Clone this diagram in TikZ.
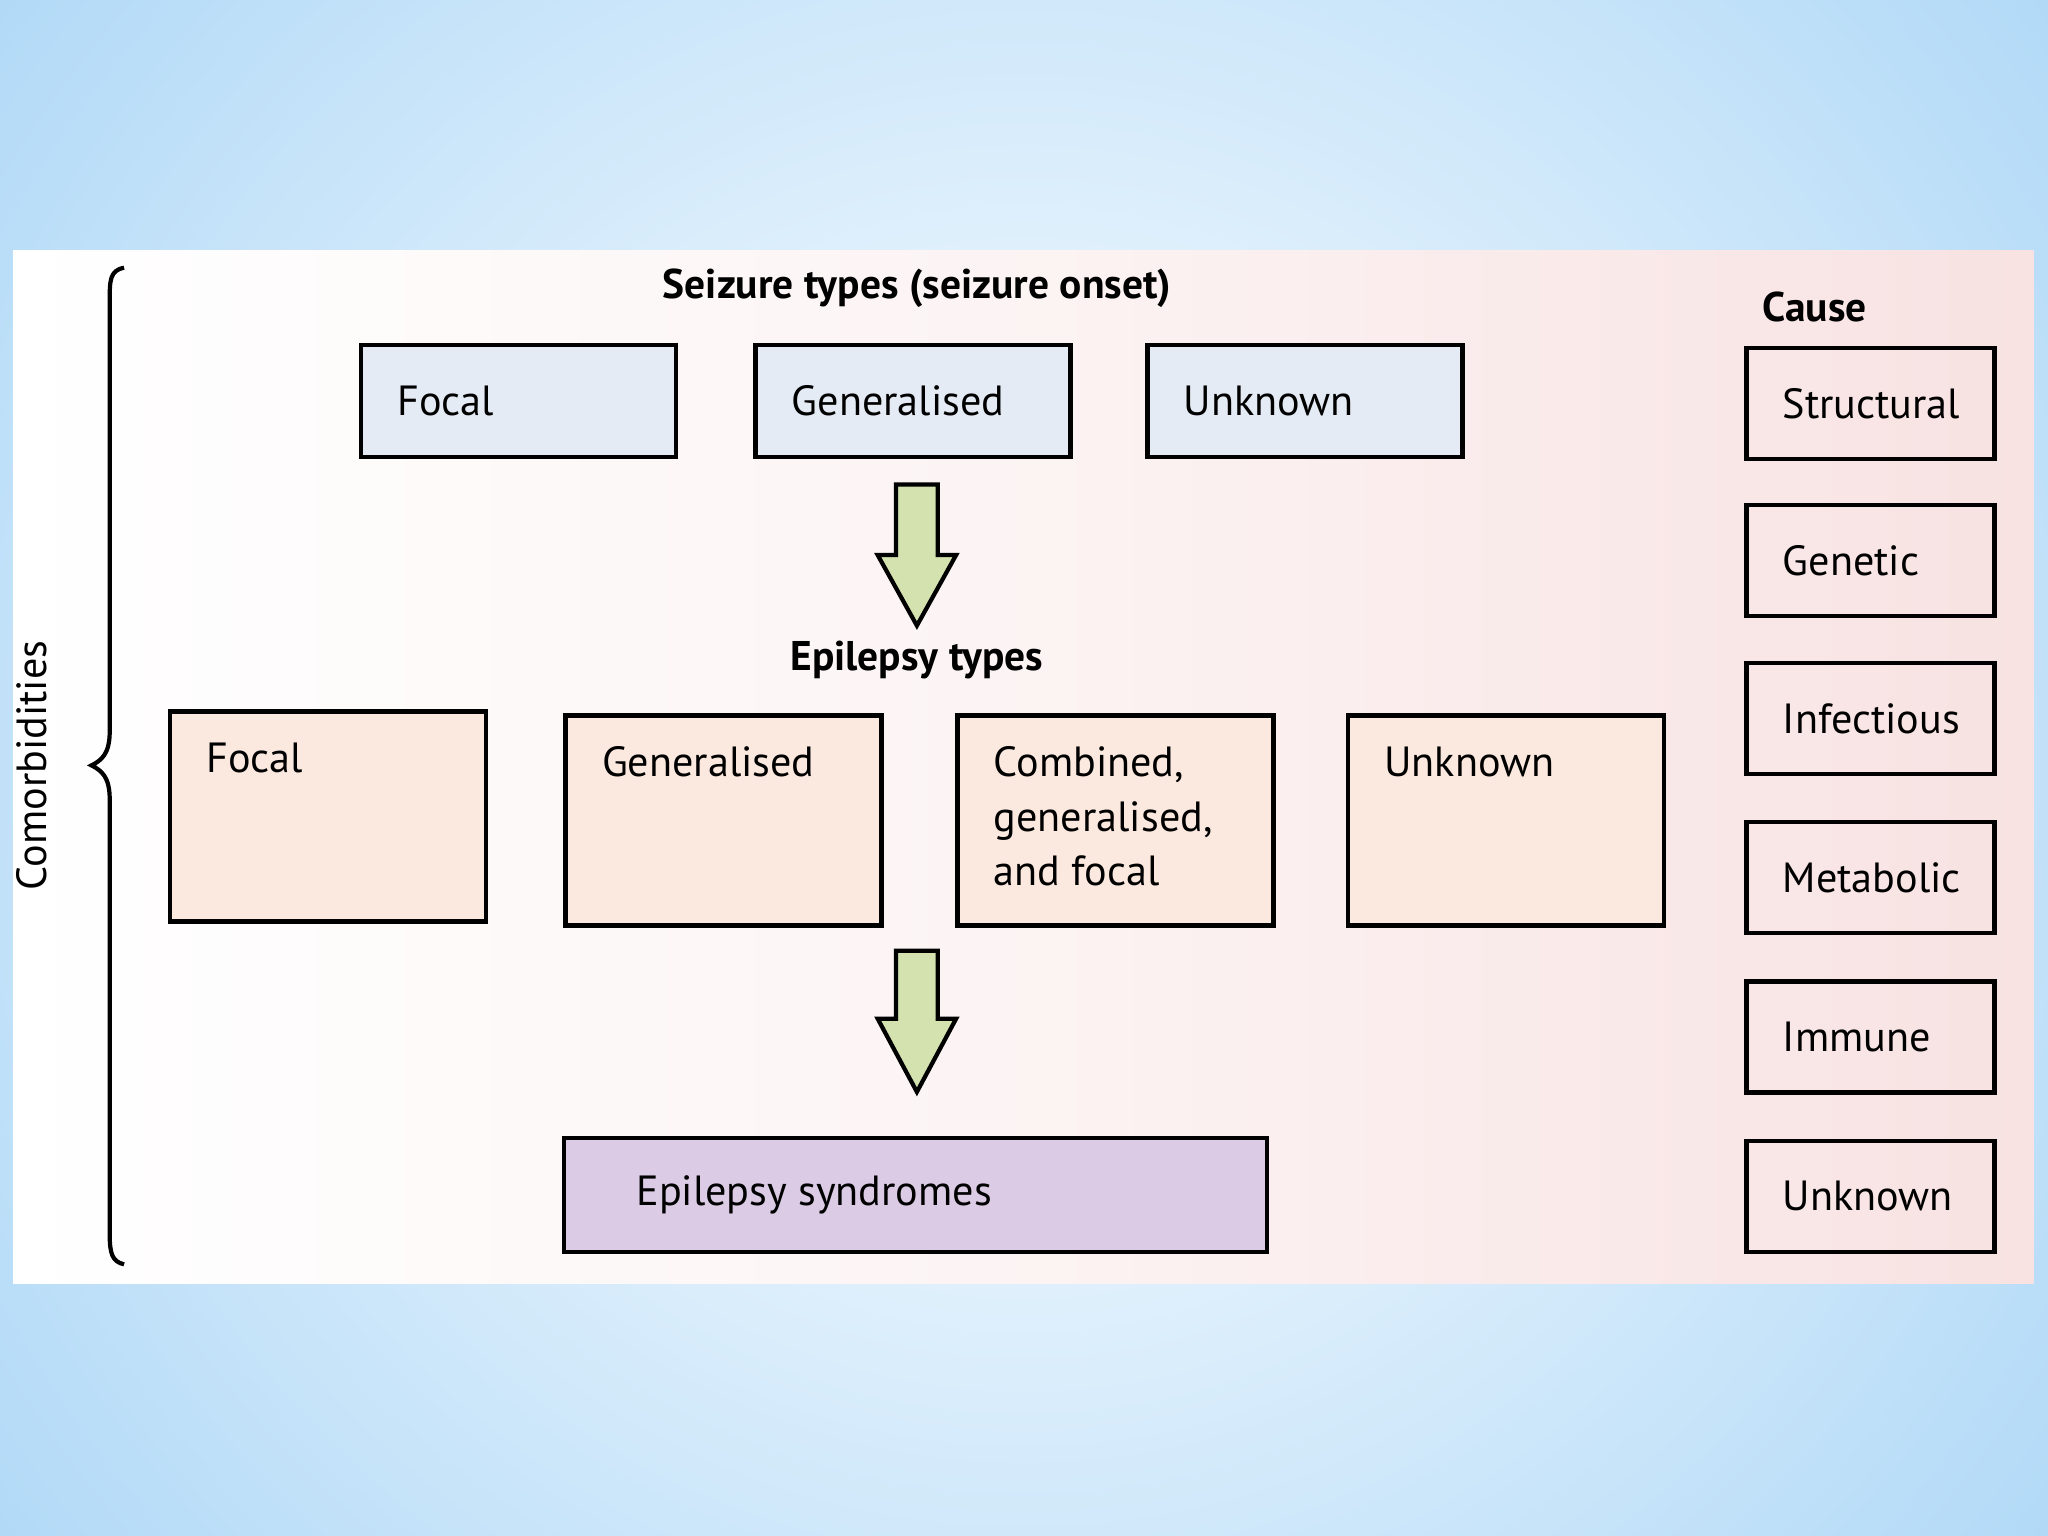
\documentclass[tikz,border=0pt]{standalone}
\usepackage{fontspec}
\setmainfont{PT Sans}
\usetikzlibrary{positioning}
\definecolor{skyblue}{HTML}{9CCFF5}
\definecolor{panelpink}{HTML}{F8E2E2}
\definecolor{seizfill}{HTML}{E5EBF4}
\definecolor{epifill}{HTML}{FBE9DF}
\definecolor{syndfill}{HTML}{DBCBE5}
\definecolor{arrowgreen}{HTML}{D3E2AE}
\tikzset{
  box/.style={draw=black, line width=1.3pt, inner sep=0pt},
  seiz/.style={box, fill=seizfill, minimum width=3.15cm, minimum height=1.12cm},
  epi/.style={box, fill=epifill, minimum width=3.16cm, minimum height=2.10cm},
  cause/.style={box, minimum width=2.48cm, minimum height=1.11cm},
  lbl/.style={font=\fontsize{12}{15.5}\selectfont, anchor=west, align=left, inner sep=0pt},
  title/.style={font=\bfseries\fontsize{11.8}{14}\selectfont},
  blockarrow/.style={draw=black, line width=1.2pt, fill=arrowgreen, line join=miter}
}
\begin{document}
\begin{tikzpicture}[x=0.01306cm, y=-0.01306cm]
    \useasboundingbox (0,0) rectangle (1568,1176);
    % background
    \shade[inner color=white, outer color=skyblue] (-480,-650) rectangle (2048,1826);
    \shade[left color=white, right color=panelpink, middle color=white!60!panelpink] (10,192) rectangle (1557,983);
    % titles
    \node[title] (seiztitle) at (702,221) {Seizure types (seizure onset)};
    \node[title] (epititle) at (702,505) {Epilepsy types};
    \node[title, anchor=west] (causetitle) at (1340,235) {Cause};
    % seizure types
    \foreach \name/\x/\txt in {sfocal/397/Focal, sgen/699/Generalised, sunk/999/Unknown}{
        \node[seiz] (\name) at (\x,307) {};
        \node[lbl] (\name-t) at ([xshift=0.38cm]\name.west) {\txt};
    }
    % epilepsy types
    \node[epi] (efocal) at (251,625) {};
    \node[lbl, anchor=north west] (efocal-t) at ([xshift=0.38cm, yshift=-0.33cm]efocal.north west) {Focal};
    \foreach \name/\x/\txt in {egen/554/Generalised, ecomb/854/{Combined,\\generalised,\\and focal}, eunk/1153/Unknown}{
        \node[epi] (\name) at (\x,628) {};
        \node[lbl, anchor=north west] (\name-t) at ([xshift=0.38cm, yshift=-0.33cm]\name.north west) {\txt};
    }
    % syndromes
    \node[box, fill=syndfill, minimum width=7.03cm, minimum height=1.14cm] (synd) at (701,915) {};
    \node[lbl] (synd-t) at ([xshift=0.74cm]synd.west) {Epilepsy syndromes};
    % causes
    \foreach \name/\y/\txt in {cstruct/309/Structural, cgen/429/Genetic, cinf/550/Infectious, cmet/672/Metabolic, cimm/794/Immune, cunk/916/Unknown}{
        \node[cause] (\name) at (1432,\y) {};
        \node[lbl] (\name-t) at ([xshift=0.38cm]\name.west) {\txt};
    }
    % block arrows
    \foreach \top/\neck in {371/425, 728/780}{
        \draw[blockarrow] (686,\top) -- (718,\top) -- (718,\neck) -- (732,\neck)
            -- (702,\top+108) -- (672,\neck) -- (686,\neck) -- cycle;
    }
    % brace
    \draw[line width=1.2pt] (95,205) .. controls (84,207) and (84,215) .. (84,230)
        -- (84,560) .. controls (84,577) and (78,582) .. (70,586)
        .. controls (78,590) and (84,595) .. (84,612)
        -- (84,945) .. controls (84,960) and (86,966) .. (95,968);
    \node[rotate=90, font=\fontsize{12}{15}\selectfont] (comorb) at (24,586) {Comorbidities};
\end{tikzpicture}
\end{document}
